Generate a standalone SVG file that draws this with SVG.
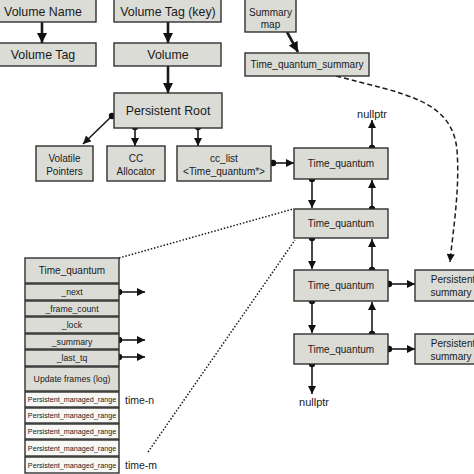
<svg xmlns="http://www.w3.org/2000/svg" width="474" height="474" viewBox="0 0 474 474">
<defs>
<style>
.box{fill:#dcdcd7;stroke:#2f2f2f;stroke-width:1.4}
.wbox{fill:#f7f7f5;stroke:#2f2f2f;stroke-width:1.4}
text{font-family:"Liberation Sans",Arial,sans-serif;fill:#1a1a1a;text-anchor:middle}
.big{font-size:12.4px}
.mid{font-size:10px}
.sm{font-size:8.7px}
.xs{font-size:7.2px}
.lab{font-size:10.5px;text-anchor:start}
.np{font-size:11px}
.ln{stroke:#1a1a1a;stroke-width:1.6;fill:none;marker-end:url(#ah)}
.thk{stroke:#1a1a1a;stroke-width:2.6;fill:none;marker-end:url(#ahb)}
.dot{fill:#111}
</style>
<marker id="ah" viewBox="0 0 10 10" refX="10" refY="5" markerUnits="userSpaceOnUse" markerWidth="9" markerHeight="8" orient="auto"><path d="M0,0 L10,5 L0,10 z" fill="#111"/></marker>
<marker id="ahb" viewBox="0 0 10 10" refX="10" refY="5" markerUnits="userSpaceOnUse" markerWidth="11" markerHeight="10" orient="auto"><path d="M0,0 L10,5 L0,10 z" fill="#111"/></marker>
</defs>

<g id="connectors">
<line class="thk" x1="42" y1="22" x2="42" y2="43"/>
<line class="thk" x1="168" y1="22" x2="168" y2="43"/>
<line class="thk" x1="168" y1="66" x2="168" y2="93"/>
<line class="thk" x1="287" y1="32" x2="298" y2="52"/>
<line class="ln" x1="112" y1="116" x2="83" y2="144"/>
<line class="ln" x1="135" y1="127" x2="135" y2="146"/>
<line class="ln" x1="198" y1="127" x2="198" y2="146"/>
<line class="ln" x1="273" y1="163" x2="294" y2="163"/>
<line class="ln" x1="372" y1="148" x2="372" y2="120"/>
<line class="ln" x1="312" y1="179" x2="312" y2="208"/>
<line class="ln" x1="372" y1="209" x2="372" y2="180"/>
<line class="ln" x1="312" y1="238" x2="312" y2="269"/>
<line class="ln" x1="372" y1="270" x2="372" y2="239"/>
<line class="ln" x1="389" y1="284" x2="415" y2="284"/>
<line class="ln" x1="312" y1="301" x2="312" y2="333"/>
<line class="ln" x1="372" y1="334" x2="372" y2="302"/>
<line class="ln" x1="389" y1="349" x2="415" y2="349"/>
<line class="ln" x1="312" y1="364" x2="312" y2="394"/>
<line class="ln" x1="119" y1="292" x2="145" y2="292"/>
<line class="ln" x1="119" y1="340" x2="145" y2="340"/>
<line class="ln" x1="119" y1="357" x2="145" y2="357"/>
<path d="M336,76 C405,94 452,100 457,150 C460,190 453,230 450,262" stroke="#1a1a1a" stroke-width="1.5" fill="none" stroke-dasharray="5,3" marker-end="url(#ah)"/>
<line x1="119" y1="258" x2="293" y2="209" stroke="#1a1a1a" stroke-width="1.5" stroke-dasharray="1.5,1.8"/>
<line x1="148" y1="452" x2="295" y2="240" stroke="#1a1a1a" stroke-width="1.5" stroke-dasharray="1.5,1.8"/>
<circle class="dot" cx="112" cy="116" r="3.2"/>
<circle class="dot" cx="135" cy="127" r="3.2"/>
<circle class="dot" cx="198" cy="127" r="3.2"/>
<circle class="dot" cx="273" cy="163" r="3.2"/>
<circle class="dot" cx="372" cy="148" r="3.2"/>
<circle class="dot" cx="312" cy="179" r="3.2"/>
<circle class="dot" cx="372" cy="209" r="3.2"/>
<circle class="dot" cx="312" cy="238" r="3.2"/>
<circle class="dot" cx="372" cy="270" r="3.2"/>
<circle class="dot" cx="389" cy="284" r="3.2"/>
<circle class="dot" cx="312" cy="301" r="3.2"/>
<circle class="dot" cx="372" cy="334" r="3.2"/>
<circle class="dot" cx="389" cy="349" r="3.2"/>
<circle class="dot" cx="312" cy="364" r="3.2"/>
<circle class="dot" cx="119" cy="292" r="3.2"/>
<circle class="dot" cx="119" cy="340" r="3.2"/>
<circle class="dot" cx="119" cy="357" r="3.2"/>
</g>

<g id="volume-name"><rect class="box" x="-5" y="-5" width="101" height="27"/><text class="big" x="43" y="15.5">Volume Name</text></g>
<g id="volume-tag"><rect class="box" x="-5" y="43" width="101" height="23"/><text class="big" x="43" y="58.5">Volume Tag</text></g>
<g id="volume-tag-key"><rect class="box" x="114" y="-5" width="107" height="27"/><text class="big" x="168" y="15.5">Volume Tag (key)</text></g>
<g id="volume"><rect class="box" x="114" y="43" width="107" height="23"/><text class="big" x="168" y="58.5">Volume</text></g>
<g id="persistent-root"><rect class="box" x="114" y="93" width="108" height="35"/><text class="big" x="168" y="114.5">Persistent Root</text></g>
<g id="volatile-pointers"><rect class="box" x="36" y="146" width="57" height="35"/><text class="mid" x="64.5" y="162">Volatile</text><text class="mid" x="64.5" y="175">Pointers</text></g>
<g id="cc-allocator"><rect class="box" x="107" y="146" width="58" height="35"/><text class="mid" x="136" y="162">CC</text><text class="mid" x="136" y="175">Allocator</text></g>
<g id="cc-list"><rect class="box" x="177" y="146" width="94" height="35"/><text class="mid" x="224" y="162">cc_list</text><text class="mid" x="224" y="175">&lt;Time_quantum*&gt;</text></g>
<g id="summary-map"><rect class="box" x="245" y="-5" width="51" height="37"/><text class="mid" x="270.5" y="15.5">Summary</text><text class="mid" x="270.5" y="27.5">map</text></g>
<g id="tq-summary"><rect class="box" x="245" y="53" width="124" height="23"/><text class="mid" x="307" y="68">Time_quantum_summary</text></g>
<g id="nullptr-top"><text class="np" x="372" y="118">nullptr</text></g>
<g id="tq1"><rect class="box" x="294" y="148" width="94" height="31"/><text class="mid" x="341" y="166.5">Time_quantum</text></g>
<g id="tq2"><rect class="box" x="294" y="209" width="94" height="29"/><text class="mid" x="341" y="227">Time_quantum</text></g>
<g id="tq3"><rect class="box" x="294" y="270" width="94" height="31"/><text class="mid" x="341" y="289">Time_quantum</text></g>
<g id="tq4"><rect class="box" x="294" y="334" width="94" height="30"/><text class="mid" x="341" y="352.5">Time_quantum</text></g>
<g id="ps1"><rect class="box" x="415" y="270" width="75" height="31"/><text class="mid" x="453" y="283">Persistent</text><text class="mid" x="451" y="296">summary</text></g>
<g id="ps2"><rect class="box" x="415" y="334" width="75" height="30"/><text class="mid" x="453" y="347">Persistent</text><text class="mid" x="451" y="360">summary</text></g>
<g id="nullptr-bottom"><text class="np" x="314" y="406">nullptr</text></g>

<g id="tq-table">
<rect class="box" x="25" y="258" width="94" height="25"/><text class="mid" x="72" y="274">Time_quantum</text>
<rect class="box" x="25" y="284" width="94" height="16"/><text class="sm" x="72" y="295">_next</text>
<rect class="box" x="25" y="301" width="94" height="15"/><text class="sm" x="72" y="311.5">_frame_count</text>
<rect class="box" x="25" y="317" width="94" height="16"/><text class="sm" x="72" y="328">_lock</text>
<rect class="box" x="25" y="334" width="94" height="15"/><text class="sm" x="72" y="344.5">_summary</text>
<rect class="box" x="25" y="350" width="94" height="16"/><text class="sm" x="72" y="361">_last_tq</text>
<rect class="box" x="25" y="367" width="94" height="24"/><text class="sm" x="72" y="382">Update frames (log)</text>
<rect class="wbox" x="25" y="392" width="94" height="15"/><text class="xs" x="72" y="402">Persistent_managed_range</text>
<rect class="wbox" x="25" y="408" width="94" height="15"/><text class="xs" x="72" y="418">Persistent_managed_range</text>
<rect class="wbox" x="25" y="424" width="94" height="15"/><text class="xs" x="72" y="434">Persistent_managed_range</text>
<rect class="wbox" x="25" y="440" width="94" height="16"/><text class="xs" x="72" y="450.5">Persistent_managed_range</text>
<rect class="wbox" x="25" y="457" width="94" height="16"/><text class="xs" x="72" y="467.5">Persistent_managed_range</text>
</g>
<g id="time-labels"><text class="lab" x="125" y="404">time-n</text><text class="lab" x="125" y="469">time-m</text></g>
</svg>
